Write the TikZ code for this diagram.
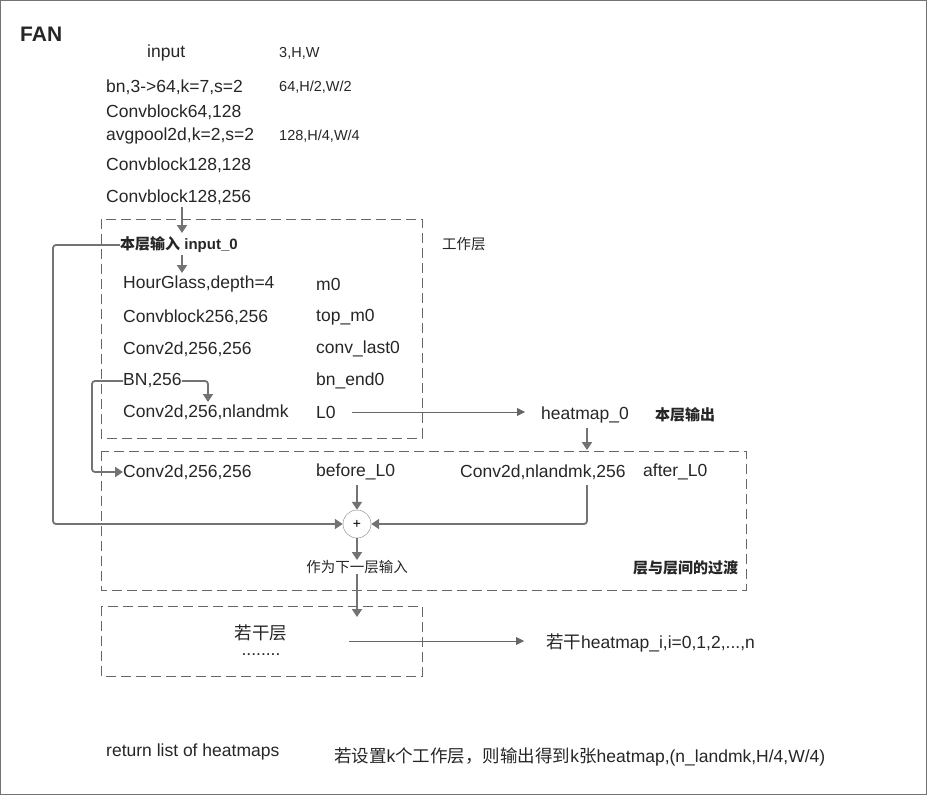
\documentclass[tikz,border=0pt]{standalone}
\usepackage{fontspec}
\setmainfont{Liberation Sans}
\newfontfamily\cjk{Noto Sans CJK SC}
\usetikzlibrary{arrows.meta}
\begin{document}
\begin{tikzpicture}[x=1pt,y=-1pt,
  txt/.style={anchor=west,inner sep=0pt,font=\fontsize{17.5}{17.5}\selectfont,text=black!85},
  sm/.style={anchor=west,inner sep=0pt,font=\fontsize{14.5}{14.5}\selectfont,text=black!85},
  smb/.style={anchor=west,inner sep=0pt,font=\fontsize{15}{15}\selectfont\bfseries,text=black!85},
  bx/.style={draw=black!60,dashed,dash pattern=on 10pt off 5pt,line width=0.8pt},
  arr/.style={draw=black!55,line width=1.8pt,-{Triangle[length=8pt,width=10pt]},rounded corners=3pt},
  thin/.style={draw=black!60,line width=0.8pt,-{Triangle[length=8pt,width=8pt]}}]
\useasboundingbox (0,0) rectangle (927,795);
\draw[black!55,line width=0.8pt] (0.5,0.5) rectangle (926.5,794.5);
\node[anchor=west,inner sep=0pt,font=\fontsize{21}{21}\selectfont\bfseries,text=black!85] (fan) at (20,34) {FAN};
\node[txt] (in) at (147,53) {input};
\node[sm] (s1) at (279,53) {3,H,W};
\node[txt] (bn) at (106,87) {bn,3->64,k=7,s=2};
\node[sm] (s2) at (279,87) {64,H/2,W/2};
\node[txt] (cb1) at (106,112) {Convblock64,128};
\node[txt] (ap) at (106,136) {avgpool2d,k=2,s=2};
\node[sm] (s3) at (279,136) {128,H/4,W/4};
\node[txt] (cb2) at (106,165) {Convblock128,128};
\node[txt] (cb3) at (106,197) {Convblock128,256};
\draw[bx] (101,219) rectangle (422,438);
\draw[bx] (101,451) rectangle (746,590);
\draw[bx] (101,606) rectangle (422,676);
\node[smb] (i0) at (120,245) {{\cjk 本层输入} input\_0};
\node[sm] (gz) at (442,244) {\cjk 工作层};
\node[txt] (hg) at (123,284) {HourGlass,depth=4};
\node[txt] (m0) at (316,284) {m0};
\node[txt] (cb4) at (123,317) {Convblock256,256};
\node[txt] (tm) at (316,317) {top\_m0};
\node[txt] (c1) at (123,349) {Conv2d,256,256};
\node[txt] (cl) at (316,349) {conv\_last0};
\node[txt] (bn2) at (123,381) {BN,256};
\node[txt] (be) at (316,381) {bn\_end0};
\node[txt] (c2) at (123,412) {Conv2d,256,nlandmk};
\node[txt] (l0) at (316,412) {L0};
\node[txt] (hm) at (541,415) {heatmap\_0};
\node[smb] (bo) at (655,415) {\cjk 本层输出};
\node[txt] (c3) at (123,472) {Conv2d,256,256};
\node[txt] (bl) at (316,472) {before\_L0};
\node[txt] (c4) at (460,472) {Conv2d,nlandmk,256};
\node[txt] (al) at (643,472) {after\_L0};
\node[draw=black!50,circle,minimum size=28pt,inner sep=0pt,font=\fontsize{14}{14}\selectfont] (plus) at (357,524) {+};
\node[sm,anchor=center] (nx) at (357,567) {\cjk 作为下一层输入};
\node[smb] (gd) at (633,568) {\cjk 层与层间的过渡};
\node[txt,anchor=center] (rg) at (261,633) {\cjk 若干层};
\node[txt,anchor=center] (dots) at (261,655) {........};
\node[txt] (hms) at (546,643) {{\cjk 若干}heatmap\_i,i=0,1,2,...,n};
\node[txt] (ret) at (106,752) {return list of heatmaps};
\node[txt] (kk) at (334,757) {{\cjk 若设置}k{\cjk 个工作层，则输出得到}k{\cjk 张}heatmap,(n\_landmk,H/4,W/4)};
\coordinate (a1) at (182,207);
\draw[arr] (a1) -- (182,233);
\draw[arr] (182,255) -- (182,273);
\draw[arr] (i0.west) -- (53,245) -- (53,524) -- (plus.west);
\draw[arr] (bn2.east) -- (208,381) -- (208,402);
\draw[arr] (bn2.west) -- (92,381) -- (92,472) -- (c3.west);
\draw[thin] (l0.east) ++(16,0) -- (525,412);
\draw[arr] (587,428) -- (587,450);
\draw[arr] (357,485) -- (plus.north);
\draw[arr] (587,485) -- (587,524) -- (plus.east);
\draw[arr] (plus.south) -- (nx.north);
\draw[arr] (nx.south) -- (357,617);
\draw[thin] (349,641) -- (524,641);
\end{tikzpicture}
\end{document}
